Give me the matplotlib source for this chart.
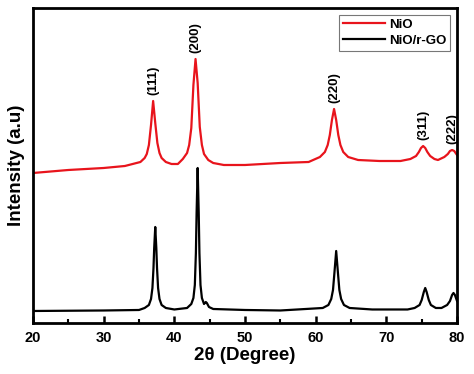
import matplotlib
matplotlib.use("Agg")
import matplotlib.pyplot as plt
from matplotlib.ticker import MultipleLocator

plt.rcParams['font.family'] = ['Liberation Sans', 'DejaVu Sans']

# NiO pattern (red)
nio_x = [20, 25, 30, 33, 35.2, 35.8, 36.1, 36.4, 36.7, 37.0, 37.3, 37.6, 37.9, 38.2, 38.8, 39.6, 40.5,
         41.2, 41.8, 42.1, 42.4, 42.7, 43.0, 43.3, 43.6, 43.9, 44.2, 44.8, 45.5, 47, 50, 55, 59, 60.6,
         61.3, 61.7, 62.0, 62.3, 62.6, 62.9, 63.2, 63.5, 63.9, 64.6, 66, 69, 72, 73.4, 74.2, 74.6,
         74.9, 75.2, 75.5, 75.8, 76.2, 76.8, 77.3, 78.2, 78.7, 79.0, 79.3, 79.6, 80]
nio_y = [150, 153, 155, 157, 161, 165, 169, 178, 198, 222, 200, 180, 170, 165, 161, 159, 159,
         164, 170, 178, 195, 238, 264, 240, 196, 178, 169, 163, 160, 158, 158, 160, 161, 166,
         171, 178, 188, 203, 214, 203, 188, 178, 171, 166, 163, 162, 162, 164, 167, 171,
         175, 177, 175, 171, 167, 164, 163, 166, 169, 172, 173, 172, 168]

# NiO/r-GO pattern (black)
rgo_x = [20, 30, 35, 35.8, 36.4, 36.7, 36.9, 37.05, 37.15, 37.3, 37.45, 37.55, 37.7, 37.9, 38.2, 38.8,
         40, 41.8, 42.4, 42.7, 42.9, 43.05, 43.15, 43.3, 43.45, 43.55, 43.7, 43.9, 44.2, 44.45, 44.6,
         44.9, 45.5, 50, 55, 61.0, 61.8, 62.2, 62.45, 62.65, 62.9, 63.15, 63.35, 63.6, 64.0, 64.8,
         68, 73, 74.0, 74.7, 75.0, 75.3, 75.5, 75.7, 76.0, 76.3, 77.0, 77.8, 78.6, 79.0, 79.3,
         79.5, 79.7, 80]
rgo_y = [12, 12.5, 13, 15, 18, 24, 35, 55, 75, 96, 75, 55, 35, 24, 18, 15,
         13.5, 15, 19, 25, 38, 70, 110, 155, 110, 70, 38, 25, 19, 21, 20,
         16, 14, 13, 12.5, 15, 18, 24, 33, 50, 72, 50, 33, 24, 18, 15,
         13.5, 13.5, 15, 18, 23, 31, 35, 31, 23, 18, 15, 15, 18, 22, 28,
         30, 28, 22]

peak_labels = ['(111)', '(200)', '(220)', '(311)', '(222)']
peak_pos = [37.0, 43.0, 62.6, 75.2, 79.3]
peak_top = [222, 264, 214, 177, 173]

fig = plt.figure(figsize=(4.74, 3.74), dpi=100)
ax = fig.add_axes([0.0696, 0.1364, 0.8946, 0.8422])

ax.plot(nio_x, nio_y, color='#e8141c', lw=1.6, label='NiO')
ax.plot(rgo_x, rgo_y, color='black', lw=1.6, label='NiO/r-GO')

for lab, px, py in zip(peak_labels, peak_pos, peak_top):
    ax.text(px, py + 6, lab, rotation=90, ha='center', va='bottom',
            fontsize=9.5, fontweight='bold')

ax.set_xlim(20, 80)
ax.set_ylim(0, 315)
ax.xaxis.set_major_locator(MultipleLocator(10))
ax.xaxis.set_minor_locator(MultipleLocator(5))
ax.tick_params(axis='x', which='major', direction='in', length=5, width=1.8,
               labelsize=10.5, pad=6)
ax.tick_params(axis='x', which='minor', direction='in', length=3, width=1.5)
ax.set_yticks([])
for lbl in ax.get_xticklabels():
    lbl.set_fontweight('bold')
for sp in ax.spines.values():
    sp.set_linewidth(2)

ax.set_xlabel('2θ (Degree)', fontsize=13.5, fontweight='bold', labelpad=1)
ax.set_ylabel('Intensity (a.u)', fontsize=13.5, fontweight='bold', labelpad=6)

leg = ax.legend(loc='upper right', fontsize=9.5, frameon=True, fancybox=False,
                edgecolor='#555555', handlelength=3.2, borderpad=0.3,
                labelspacing=0.3, handletextpad=0.3, borderaxespad=0.5)
leg.get_frame().set_linewidth(0.8)
for t in leg.get_texts():
    t.set_fontweight('bold')

fig.savefig('out.png', dpi=100)
